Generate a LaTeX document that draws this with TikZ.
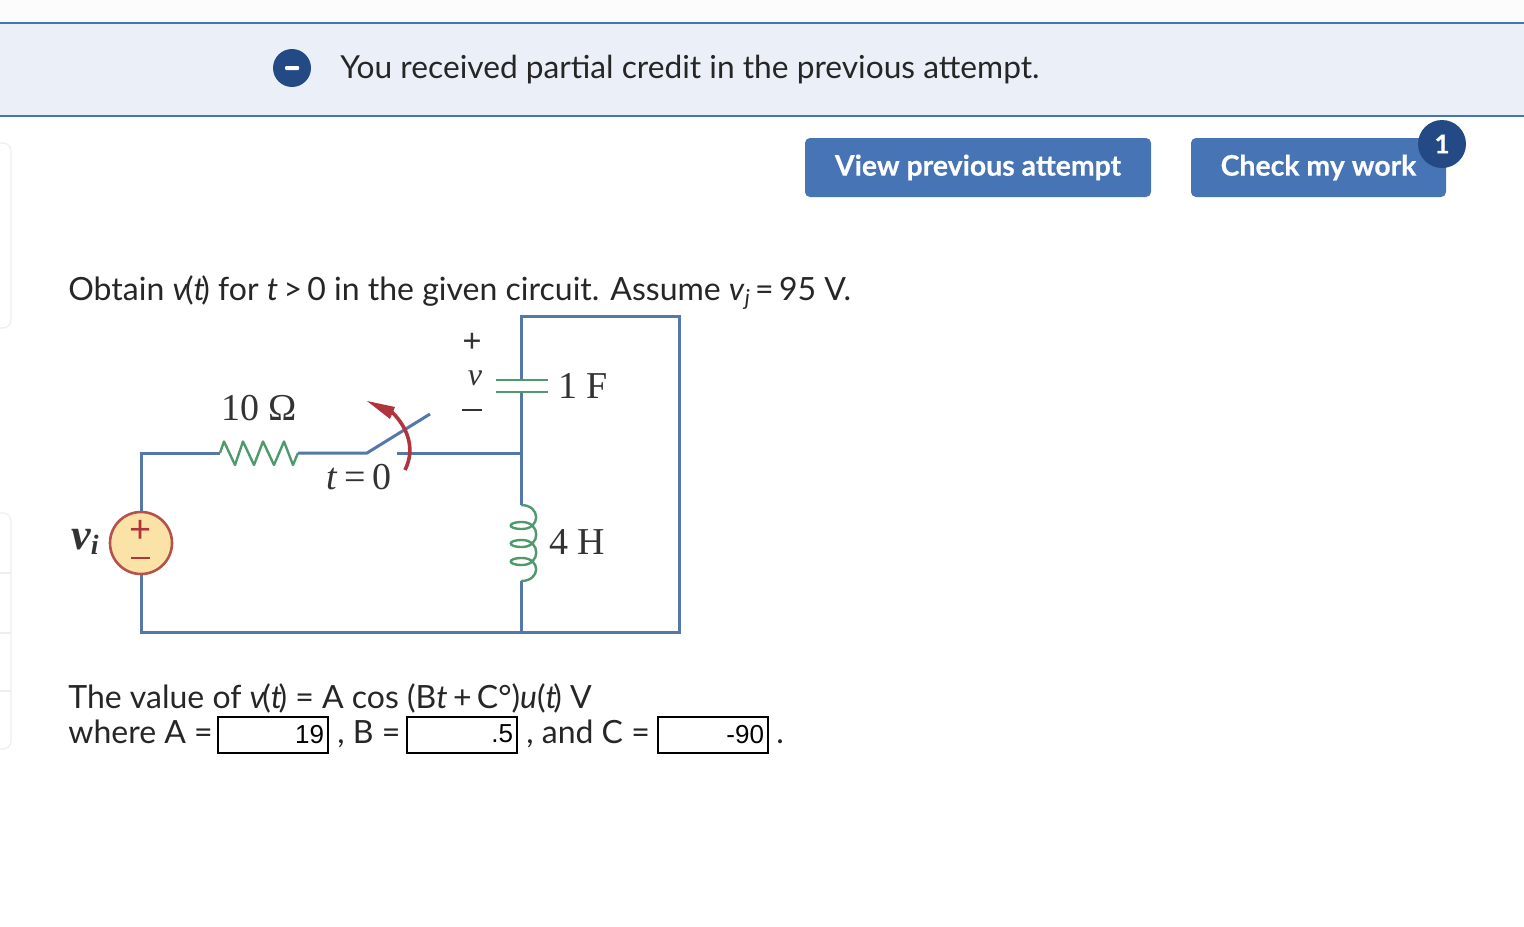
\documentclass[tikz,border=0pt]{standalone}
\usepackage{fontspec}
\usepackage{xcolor}
\setmainfont{Lato}
\newfontfamily\btnfont[BoldFeatures={FakeBold=0.5}]{Lato}
\newfontfamily\boxfont{Liberation Sans}
\newfontfamily\figfont{Liberation Serif}
\definecolor{wireblue}{HTML}{5478AA}
\definecolor{barblue}{HTML}{4674B4}
\definecolor{darkblue}{HTML}{234A85}
\definecolor{paleblue}{HTML}{EBF0F8}
\definecolor{partgreen}{HTML}{4F9A6D}
\definecolor{partred}{HTML}{B0343C}
\definecolor{srcedge}{HTML}{B5524A}
\definecolor{srcfill}{HTML}{FBE3A8}
\definecolor{inktext}{HTML}{262626}
\definecolor{figtext}{HTML}{333333}
\definecolor{edgegray}{HTML}{EEEEEE}
\newcommand{\itv}{\textit{v}\kern-1.6pt(\textit{t}\kern-1.8pt)}
\tikzset{
    txt/.style={anchor=base west, inner sep=0pt, text=inktext, font=\fontsize{16}{18}\selectfont},
    figlabel/.style={inner sep=0pt, text=figtext, font=\figfont\fontsize{19}{21}\selectfont},
    btn/.style={fill=barblue, rounded corners=2.5pt, text=white, minimum height=29.5pt, inner sep=0pt, font=\btnfont\fontsize{14.2}{16}\bfseries\selectfont},
    badge/.style={circle, fill=darkblue, text=white, inner sep=0pt, font=\btnfont\fontsize{13}{15}\bfseries\selectfont},
    ansbox/.style={draw=black, line width=1pt, minimum width=55pt, minimum height=18pt, inner sep=0pt, inner xsep=2pt, align=right, text=black, font=\boxfont\fontsize{13}{15}\selectfont, text width=51pt},
    wire/.style={draw=wireblue, line width=1.5pt},
    part/.style={draw=partgreen, line width=1.2pt},
    sidebox/.style={draw=edgegray, line width=0.6pt, rounded corners=4pt}
}
\begin{document}
\begin{tikzpicture}[x=0.5pt,y=-0.5pt]
    \useasboundingbox (0,0) rectangle (1524,926);

    % Banner
    \fill[black!1] (0,0) rectangle (1524,23);
    \fill[paleblue] (0,23) rectangle (1524,116);
    \draw[barblue, line width=1.2pt] (0,23) -- (1524,23);
    \draw[barblue, line width=1.2pt] (0,116) -- (1524,116);
    \node[badge, minimum size=19pt] (minusbadge) at (292,68) {};
    \fill[white, rounded corners=0.5pt] (285,66) rectangle (299,70);
    \node[txt, font=\fontsize{15.85}{18}\selectfont] (notice) at (340,78) {You received partial credit in the previous attempt.};

    % Side panels
    \draw[sidebox] (-10,143) -- (11,143) -- (11,328) -- (-10,328);
    \draw[sidebox] (-10,513) -- (11,513) -- (11,749) -- (-10,749);
    \draw[edgegray, line width=0.6pt] (0,573) -- (11,573);
    \draw[edgegray, line width=0.6pt] (0,633) -- (11,633);
    \draw[edgegray, line width=0.6pt] (0,691) -- (11,691);

    % Buttons
    \node[btn, minimum width=173pt] (viewbtn) at (978,167.5) {\raisebox{-0.5pt}{View previous attempt}};
    \node[btn, minimum width=127.5pt] (checkbtn) at (1318.5,167.5) {\raisebox{-0.5pt}{Check my work}};
    \node[badge, minimum size=24pt] (countbadge) at (1442,144) {1};

    % Question text
    \node[txt] (question) at (68,300) {Obtain \itv{} for \textit{t}\,{>}\,0 in the given circuit. Assume \textit{v}\raisebox{-2.5pt}{\fontsize{11}{12}\selectfont\textit{j}}\,{=}\,95 V.};
    \node[txt] (valueline) at (68,708) {The value of \itv{} = A cos (B\textit{t}\,+\,C°)\textit{u}(\textit{t}\kern-1.8pt) V};
    \node[txt] (whereA) at (68,743) {where A =};
    \node[ansbox] (boxA) at (273,735) {\raisebox{1pt}{19}};
    \node[txt] (labelB) at (337,743) {, B =};
    \node[ansbox] (boxB) at (462,735) {\raisebox{1pt}{.5}};
    \node[txt] (labelC) at (526,743) {, and C =};
    \node[ansbox] (boxC) at (713,735) {\raisebox{1pt}{-90}};
    \node[txt] (endstop) at (776,743) {.};

    % Circuit points
    \coordinate (topleft) at (141,453);
    \coordinate (botleft) at (141,632);
    \coordinate (rleft) at (220,453);
    \coordinate (rright) at (298,453);
    \coordinate (swpivot) at (367,453);
    \coordinate (swtip) at (430,414);
    \coordinate (swcontact) at (397,453);
    \coordinate (junction) at (521,453);
    \coordinate (captop) at (521,380);
    \coordinate (capbot) at (521,392);
    \coordinate (coiltop) at (521,505);
    \coordinate (coilbot) at (521,581);
    \coordinate (bottomnode) at (521,632);
    \coordinate (topnode) at (521,316);
    \coordinate (topright) at (679,316);
    \coordinate (botright) at (679,632);

    % Source
    \node[circle, draw=srcedge, fill=srcfill, line width=1.3pt, minimum size=31pt, inner sep=0pt] (vsrc) at (141,543) {};
    \node[inner sep=0pt, text=partred, font=\fontsize{19}{20}\selectfont] (srcplus) at (141,531) {+};
    \draw[partred, line width=0.8pt] (131,558) -- (150,558);
    \node[figlabel, font=\figfont\bfseries\itshape\fontsize{22}{24}\selectfont] (vilabel) at (85,542) {v\raisebox{-2.5pt}{\fontsize{14}{15}\selectfont i}};

    % Wires
    \draw[wire] (vsrc.north) -- (topleft) -- (rleft);
    \draw[wire] (vsrc.south) -- (botleft) -- (bottomnode);
    \draw[wire] (rright) -- (swpivot) -- (swtip);
    \draw[wire] (swcontact) -- (junction);
    \draw[wire] (capbot) -- (junction) -- (coiltop);
    \draw[wire] (coilbot) -- (bottomnode) -- (botright) -- (topright) -- (topnode) -- (captop);

    % Parts
    \draw[part, line join=round] (rleft) -- (224,441.5) -- (235,465) -- (243,441.5) -- (254,465) -- (263,441.5) -- (274,465) -- (284,441.5) -- (293,465) -- (rright);
    \draw[part] (496,380) -- (548,380);
    \draw[part] (496,392) -- (548,392);
    \draw[part] (coiltop) .. controls (541,505) and (541,529) .. (522,529)
        .. controls (507,529) and (507,522) .. (522,522)
        .. controls (541,522) and (541,547) .. (522,547)
        .. controls (507,547) and (507,540) .. (522,540)
        .. controls (541,540) and (541,565) .. (522,565)
        .. controls (507,565) and (507,558) .. (522,558)
        .. controls (541,558) and (541,581) .. (coilbot);

    % Switch arrow
    \coordinate (arrowstart) at (405,470);
    \coordinate (arrowtip) at (367,401);
    \fill[partred] (arrowtip) -- (395,407) -- (390,419) -- cycle;
    \draw[partred, line width=1.8pt] (arrowstart) .. controls (415,450) and (409,429) .. (392,412);

    % Labels
    \node[figlabel] (rlabel) at (259,408) {10 Ω};
    \node[figlabel] (swlabel) at (359,477) {\textit{t}\,=\,0};
    \node[figlabel, font=\figfont\bfseries\fontsize{17}{18}\selectfont] (capplus) at (472,343) {+};
    \node[figlabel, font=\figfont\itshape\fontsize{16}{17}\selectfont] (vlabel) at (475,378) {v};
    \draw[figtext, line width=0.8pt] (462,410) -- (482,410);
    \node[figlabel, anchor=west] (clabel) at (558,386) {1 F};
    \node[figlabel, anchor=west] (llabel) at (549,542) {4 H};
\end{tikzpicture}
\end{document}
